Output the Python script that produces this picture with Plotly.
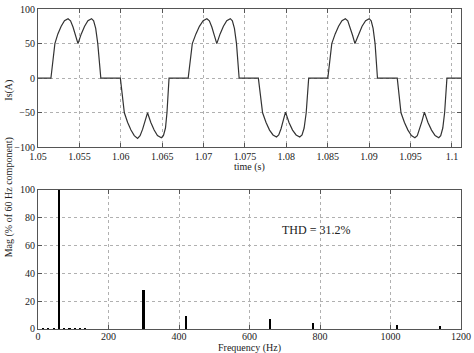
import plotly.graph_objects as go
from plotly.subplots import make_subplots

# ---- Top: line current Is(A) vs time (s) ----
time_s = [
    1.05000, 1.05156, 1.05204, 1.05240, 1.05280, 1.05320, 1.05363, 1.05393, 1.05423, 1.05453,
    1.05483, 1.05523, 1.05563, 1.05603, 1.05647, 1.05672, 1.05697, 1.05722, 1.05759,
    1.05995, 1.06043, 1.06083, 1.06123, 1.06163, 1.06203, 1.06233, 1.06263, 1.06293,
    1.06323, 1.06363, 1.06403, 1.06443, 1.06490, 1.06515, 1.06540, 1.06558, 1.06583,
    1.06814, 1.06864, 1.06908, 1.06950, 1.06995, 1.07040, 1.07070, 1.07100, 1.07130,
    1.07160, 1.07200, 1.07240, 1.07280, 1.07323, 1.07348, 1.07373, 1.07398, 1.07430,
    1.07662, 1.07713, 1.07755, 1.07797, 1.07839, 1.07881, 1.07908, 1.07936, 1.07963,
    1.07990, 1.08032, 1.08075, 1.08118, 1.08162, 1.08190, 1.08215, 1.08240, 1.08270,
    1.08501, 1.08549, 1.08590, 1.08631, 1.08672, 1.08713, 1.08742, 1.08771, 1.08800,
    1.08829, 1.08872, 1.08915, 1.08958, 1.09001, 1.09025, 1.09048, 1.09072, 1.09101,
    1.09340, 1.09385, 1.09427, 1.09469, 1.09511, 1.09553, 1.09582, 1.09610, 1.09639,
    1.09668, 1.09711, 1.09754, 1.09797, 1.09841, 1.09865, 1.09890, 1.09912, 1.09940,
    1.10110,
]
current_a = [
    0, 0, 50, 64, 75, 83, 86, 83, 74, 62,
    50, 64, 75, 83, 86, 83, 72, 50, 0,
    0, -50, -64, -75, -83, -87, -83, -74, -62,
    -50, -64, -75, -83, -86, -83, -72, -50, 0,
    0, 50, 64, 75, 83, 86, 83, 74, 62,
    50, 64, 75, 83, 86, 83, 72, 50, 0,
    0, -50, -64, -75, -82, -85, -82, -73, -61,
    -49, -64, -75, -82, -85, -82, -72, -50, 0,
    0, 50, 64, 75, 83, 86, 83, 74, 62,
    50, 64, 75, 83, 86, 83, 72, 50, 0,
    0, -50, -64, -75, -83, -86, -83, -74, -62,
    -49, -64, -75, -83, -86, -83, -72, -50, 0,
    0,
]
time_ticks = [1.05, 1.055, 1.06, 1.065, 1.07, 1.075, 1.08, 1.085, 1.09, 1.095, 1.1]
current_ticks = [-100, -50, 0, 50, 100]

# ---- Bottom: harmonic spectrum ----
freq_hz = [15, 30, 45, 60, 75, 90, 105, 120, 135, 300, 420, 660, 780, 1020, 1140]
mag_pct = [0.5, 0.4, 0.7, 100, 0.9, 0.5, 0.4, 0.4, 0.3, 28.4, 9.6, 7.3, 4.5, 3.5, 2.6]
freq_ticks = [0, 200, 400, 600, 800, 1000, 1200]
mag_ticks = [0, 20, 40, 60, 80, 100]
thd_text = "THD = 31.2%"

FONT = "Liberation Serif"
AX = "#555555"
GRID = "#b0b0b0"
TXT = "#222222"

fig = make_subplots(rows=2, cols=1, vertical_spacing=0.0)

fig.add_trace(go.Scatter(x=time_s, y=current_a, mode="lines",
                         line=dict(color="#333333", width=1.2),
                         showlegend=False), row=1, col=1)

bar_widths = [7 if f == 60 else 4.5 for f in freq_hz]
fig.add_trace(go.Bar(x=freq_hz, y=mag_pct, width=bar_widths,
                     marker=dict(color="#000000", line=dict(width=0)),
                     showlegend=False), row=2, col=1)

common = dict(showline=True, mirror="ticks", linecolor=AX, linewidth=1,
              ticks="inside", ticklen=4, tickcolor=AX,
              showgrid=True, gridcolor=GRID, griddash="dot", gridwidth=1,
              zeroline=False, tickfont=dict(family=FONT, size=10, color=TXT))

fig.update_xaxes(range=[1.05, 1.1011], tickvals=time_ticks,
                 ticktext=[("%g" % v) for v in time_ticks],
                 domain=[0.0, 1.0], row=1, col=1, **common)
fig.update_yaxes(range=[-100, 100], tickvals=current_ticks, domain=[0.5675, 1.0],
                 row=1, col=1, **common)
fig.update_xaxes(range=[0, 1200], tickvals=freq_ticks, domain=[0.0, 1.0],
                 ticklabelstandoff=-2, row=2, col=1, **common)
fig.update_yaxes(range=[0, 100], tickvals=mag_ticks, domain=[0.0, 0.4356],
                 row=2, col=1, **common)

# axis titles placed as annotations (pixel offsets from the plot edges)
fig.add_annotation(text="time (s)", xref="paper", yref="paper", x=0.5, y=0.5675,
                   yshift=-20, yanchor="middle", showarrow=False, borderpad=0,
                   font=dict(family=FONT, size=10, color=TXT))
fig.add_annotation(text="Frequency (Hz)", xref="paper", yref="paper", x=0.5, y=0.0,
                   yshift=-19, yanchor="middle", showarrow=False, borderpad=0,
                   font=dict(family=FONT, size=10, color=TXT))
fig.add_annotation(text="Is(A)", xref="paper", yref="paper", x=0.0, y=0.7838,
                   xshift=-29, xanchor="center", textangle=-90, showarrow=False,
                   font=dict(family=FONT, size=10, color=TXT))
fig.add_annotation(text="Mag (% of 60 Hz component)", xref="paper", yref="paper",
                   x=0.0, y=0.2178, xshift=-29, xanchor="center", textangle=-90,
                   showarrow=False, font=dict(family=FONT, size=10, color=TXT))

fig.add_annotation(x=789, y=71, xref="x2", yref="y2", text=thd_text, showarrow=False,
                   font=dict(family=FONT, size=12, color=TXT))

fig.update_layout(width=474, height=353, margin=dict(l=38, r=10, t=3, b=24),
                  paper_bgcolor="white", plot_bgcolor="white", bargap=0)

fig.write_html("out.html")
